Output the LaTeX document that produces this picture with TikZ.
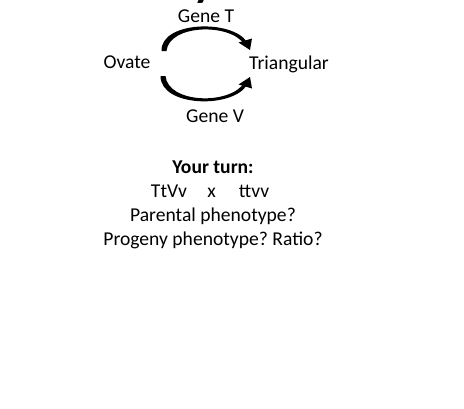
\documentclass[tikz,border=0pt]{standalone}
\usepackage{fontspec}
\setmainfont{Carlito}
\frenchspacing
\begin{document}
\begin{tikzpicture}[x=1pt,y=-1pt,
  lbl/.style={font=\fontsize{19.6}{24}\selectfont, inner sep=0pt, anchor=base},
  crescent/.style={fill=black, draw=none}]
\useasboundingbox (0,0) rectangle (464,408);
\clip (0,0) rectangle (464,408);
\node[font=\fontsize{44}{50}\selectfont\bfseries, inner sep=0pt, anchor=base] (title) at (204,-4) {y};
\node[lbl] (geneT) at (206,22) {Gene T};
\node[lbl] (ovate) at (127,68) {Ovate};
\node[lbl] (tri) at (289,69) {Triangular};
\node[lbl] (geneV) at (215,122) {Gene V};
% upper arrow (Gene T)
\coordinate (ua) at (161.5,51);
\coordinate (ub) at (250,50);
\fill[crescent] (ua) .. controls (160.5,21) and (232,19) .. (247,42)
  -- (244.5,44.5) .. controls (230,22.5) and (169,24.5) .. (166.5,51) -- cycle;
\fill[crescent] (ub) -- (238.5,42.5) -- (252,38.5) -- cycle;
% lower arrow (Gene V)
\coordinate (la) at (160.5,76);
\coordinate (lb) at (250,77);
\fill[crescent] (la) .. controls (160.5,107) and (232,109) .. (247,85)
  -- (244.5,82.5) .. controls (230,105.5) and (168,103.5) .. (165.5,76) -- cycle;
\fill[crescent] (lb) -- (238.5,84.5) -- (252,88.5) -- cycle;
\node[lbl, font=\fontsize{19.6}{24}\selectfont\bfseries] (yt) at (213,173) {Your turn:};
\node[lbl] (c1) at (169,197) {TtVv};
\node[lbl] (c2) at (211.5,197) {x};
\node[lbl] (c3) at (254,197) {ttvv};
\node[lbl] (par) at (213,221) {Parental phenotype?};
\node[lbl] (prog) at (213,245) {Progeny phenotype? Ratio?};
\end{tikzpicture}
\end{document}
